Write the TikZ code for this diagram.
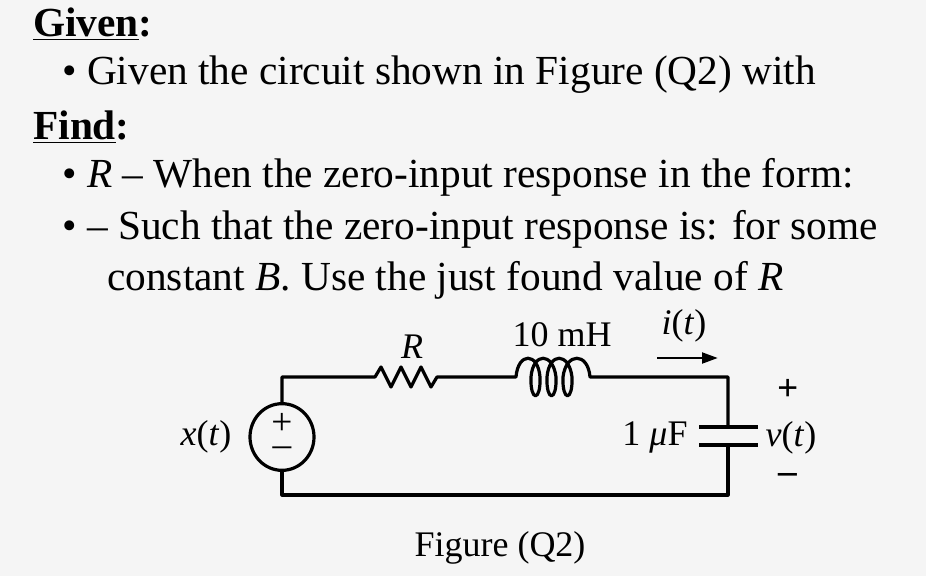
\documentclass[tikz,border=0pt]{standalone}
\usepackage{fontspec}
\setmainfont{Liberation Serif}
\usetikzlibrary{arrows.meta,shapes.geometric}
\begin{document}
\begin{tikzpicture}[x=0.75pt,y=-0.75pt,
  txt/.style={anchor=west,inner sep=0pt,font=\fontsize{31}{34}\selectfont},
  lbl/.style={inner sep=0pt,font=\fontsize{27}{30}\selectfont},
  wire/.style={line width=2.4pt,line join=round}]
\fill[gray!8] (0,0) rectangle (926,576);
\useasboundingbox (0,0) rectangle (926,576);
\node[txt] (g) at (33,24) {\textbf{\underline{Given}:}};
\node[txt] (l1) at (62,75) {• Given the circuit shown in Figure (Q2) with};
\node[txt] (f) at (33,127) {\textbf{\underline{Find}:}};
\node[txt] (l2) at (62,177) {• \textit{R} – When the zero-input response in the form:};
\node[txt] (l3) at (62,229) {• – Such that the zero-input response is: for some};
\node[txt] (l4) at (107,280) {constant \textit{B}. Use the just found value of \textit{R}};
% circuit
\node[draw,ellipse,line width=2.4pt,minimum width=48pt,minimum height=50pt,inner sep=0pt] (src) at (282,437) {};
\node[lbl,font=\fontsize{28}{30}\selectfont] (sp) at (282,424) {+};
\node[lbl,font=\fontsize{28}{30}\selectfont] (sm) at (282,452) {–};
\coordinate (tl) at (282,377);
\coordinate (tr) at (728,377);
\coordinate (bl) at (282,495);
\coordinate (br) at (728,495);
\coordinate (r1) at (375,377);
\coordinate (r2) at (442,377);
\coordinate (i1) at (516,377);
\coordinate (i2) at (606,377);
\coordinate (c1) at (728,427);
\coordinate (c2) at (728,445);
\draw[wire] (src.north) -- (tl) -- (r1)
  -- ++(6,-10) -- ++(10,20) -- ++(10,-20) -- ++(10,20) -- ++(10,-20) -- ++(10,20) -- ++(6,-10) -- (r2) -- (i1)
  .. controls (518,352) and (538,352) .. (540,377)
  .. controls (541,402) and (530,402) .. (531,377)
  .. controls (533,352) and (553,352) .. (556,377)
  .. controls (557,402) and (546,402) .. (547,377)
  .. controls (549,352) and (569,352) .. (572,377)
  .. controls (573,402) and (562,402) .. (563,377)
  .. controls (566,352) and (588,352) .. (590,377)
  -- (i2) -- (tr) -- (c1);
\draw[wire] (c2) -- (br) -- (bl) -- (src.south);
\draw[wire] (699,427) -- (758,427);
\draw[wire] (699,445) -- (758,445);
\coordinate (a1) at (657,358);
\coordinate (a2) at (718,358);
\draw[line width=2.2pt,-{Triangle[length=12pt,width=8pt]}] (a1) -- (a2);
\node[lbl] (R) at (412,347) {\textit{R}};
\node[lbl] (L) at (562,335) {10 mH};
\node[lbl] (i) at (684,326) {\textit{i}(\textit{t})};
\node[lbl,font=\bfseries\fontsize{28}{30}\selectfont] (vp) at (788,390) {+};
\node[lbl] (v) at (791,438) {\textit{v}(\textit{t})};
\node[lbl,font=\bfseries\fontsize{28}{30}\selectfont] (vm) at (788,478) {–};
\node[lbl] (C) at (655,437) {1 \textit{μ}F};
\node[lbl] (x) at (206,437) {\textit{x}(\textit{t})};
\node[lbl] (fig) at (500,548) {Figure (Q2)};
\end{tikzpicture}
\end{document}
